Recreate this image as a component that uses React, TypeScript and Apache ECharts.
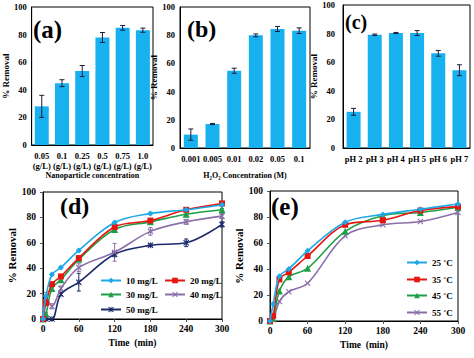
import React, { useEffect, useRef } from 'react';
import * as echarts from 'echarts';

const FONT = '"Liberation Serif", "Times New Roman", serif';

// Panel (a)
const catsA = ['0.05\n(g/L)', '0.1\n(g/L)', '0.25\n(g/L)', '0.5\n(g/L)', '0.75\n(g/L)', '1.0\n(g/L)'];
const valsA = [28, 44.8, 53.6, 77.9, 84.9, 83.2];
const errA = [8, 2.5, 4, 3.6, 1.7, 1.5];
// Panel (b)
const catsB = ['0.001', '0.005', '0.01', '0.02', '0.05', '0.1'];
const valsB = [9.5, 17, 54.8, 79.9, 84.4, 83.2];
const errB = [4, 0.4, 1.8, 1, 1.8, 2];
// Panel (c)
const catsC = ['pH 2', 'pH 3', 'pH 4', 'pH 5', 'pH 6', 'pH 7'];
const valsC = [25.3, 79.2, 80.4, 80.4, 66.2, 54.4];
const errC = [2.4, 0.5, 0.4, 1.7, 2, 3.8];
// Panel (d)
const timeD = [0, 5, 15, 30, 60, 120, 180, 240, 300];
const namesD = ['10 mg/L', '20 mg/L', '30 mg/L', '40 mg/L', '50 mg/L'];
const d10 = [0, 18, 35, 40.5, 54, 76, 83, 86, 90];
const d20 = [0, 12.5, 27.5, 33.5, 48, 72.5, 77.5, 86, 91];
const d30 = [0, 4, 24, 31, 47, 70.5, 76.5, 82.5, 86];
const d40 = [0, 17, 10, 24, 40.5, 52.5, 69, 76.5, 81];
const d50 = [0, 0, 0, 19.5, 29, 51, 58, 60, 74.5];
const eD10 = [0, 1, 1, 1, 1, 1, 1, 1, 1];
const eD20 = [0, 1, 1, 1, 1, 1, 1, 1, 1];
const eD30 = [0, 1, 1, 1, 1, 1, 1, 1, 1];
const eD40 = [0, 4, 2, 2, 3, 7, 3, 2, 2];
const eD50 = [0, 0, 0, 1, 7, 2, 1, 3, 2];
// Panel (e)
const timeE = [0, 5, 15, 30, 60, 120, 180, 240, 300];
const namesE = ['25 ˚C', '35 ˚C', '45 ˚C', '55 ˚C'];
const e25 = [0, 13, 34.5, 40, 54, 76, 82, 86, 90];
const e35 = [0, 4, 32, 37.5, 50, 74, 77.5, 85, 88];
const e45 = [0, 2, 23, 34, 40.5, 69, 81, 83.5, 87.5];
const e55 = [0, 1, 15, 22.5, 29, 65.5, 74, 76.5, 83.5];

const yTicks = { min: 0, max: 100, interval: 20 };

const COLORS = ['#1fa8e6', '#e5150f', '#1f9e48', '#8a6fa8', '#1c2a6b'];
const BAR = '#17b1ef';

const XSYM = 'path://M0,1.3L1.3,0L5,3.7L8.7,0L10,1.3L6.3,5L10,8.7L8.7,10L5,6.3L1.3,10L0,8.7L3.7,5Z';
const STAR = 'path://M0,1.3L1.3,0L5,3.7L8.7,0L10,1.3L6.3,5L10,8.7L8.7,10L5,6.3L1.3,10L0,8.7L3.7,5ZM4.3,0L5.7,0L5.7,10L4.3,10Z';
const SYMS = ['diamond', 'rect', 'triangle', XSYM, STAR];

function mkErr(color: string, cap: number) {
  return (params: any, api: any) => {
    const x = api.value(0);
    const v = api.value(1);
    const e = api.value(2);
    if (!e) return null;
    const hi = api.coord([x, v + e]);
    const lo = api.coord([x, v - e]);
    const st = { stroke: color, lineWidth: 1 };
    return {
      type: 'group',
      children: [
        { type: 'line', shape: { x1: hi[0], y1: hi[1], x2: lo[0], y2: lo[1] }, style: st },
        { type: 'line', shape: { x1: hi[0] - cap, y1: hi[1], x2: hi[0] + cap, y2: hi[1] }, style: st },
        { type: 'line', shape: { x1: lo[0] - cap, y1: lo[1], x2: lo[0] + cap, y2: lo[1] }, style: st },
      ],
    };
  };
}

const txt = (size: number) => ({ fontFamily: FONT, fontWeight: 'bold' as const, fontSize: size, color: '#000' });

function barPanel(idx: number, cats: string[], vals: number[], errs: number[], xName: string, yGap: number, yMargin: number, xGap: number, xLabelMargin: number) {
  const xAxis = {
    type: 'category', gridIndex: idx, data: cats,
    axisLine: { lineStyle: { color: '#000', width: 1 } },
    axisTick: { show: false },
    axisLabel: { ...txt(8.5), margin: xLabelMargin, lineHeight: 10, interval: 0 },
    name: xName, nameLocation: 'middle', nameGap: xGap, nameTextStyle: txt(8),
  };
  const yAxis = {
    type: 'value', gridIndex: idx, ...yTicks,
    axisLine: { show: true, lineStyle: { color: '#000', width: 1 } },
    axisTick: { show: false },
    splitLine: { show: false },
    axisLabel: { ...txt(8.5), margin: yMargin },
    name: '% Removal', nameLocation: 'middle', nameGap: yGap, nameTextStyle: txt(9),
  };
  const series = [
    { type: 'bar', xAxisIndex: idx, yAxisIndex: idx, data: vals, barWidth: 14, itemStyle: { color: BAR }, silent: true },
    {
      type: 'custom', xAxisIndex: idx, yAxisIndex: idx, z: 5, silent: true,
      data: vals.map((v, i) => [i, v, errs[i]]),
      encode: { x: 0, y: 1 },
      renderItem: mkErr('#1b1b3a', 2.5),
    },
  ];
  return { xAxis, yAxis, series };
}

function linePanel(idx: number, times: number[], names: string[], sets: number[][], errs: number[][] | null, yGap: number) {
  const xAxis = {
    type: 'value', gridIndex: idx, min: 0, max: 300, interval: 60,
    axisLine: { lineStyle: { color: '#000', width: 1 } },
    axisTick: { show: true, inside: false, length: 3, lineStyle: { color: '#555' } },
    splitLine: { show: false },
    axisLabel: { ...txt(9.5), margin: 5 },
    name: 'Time  (min)', nameLocation: 'middle', nameGap: 19, nameTextStyle: txt(9.5),
  };
  const yAxis = {
    type: 'value', gridIndex: idx, ...yTicks,
    axisLine: { show: true, lineStyle: { color: '#000', width: 1 } },
    axisTick: { show: true, length: 3, lineStyle: { color: '#555' } },
    splitLine: { show: false },
    axisLabel: { ...txt(9.5), margin: 7 },
    name: '% Removal', nameLocation: 'middle', nameGap: yGap, nameTextStyle: txt(11),
  };
  const series: any[] = [];
  sets.forEach((vals, k) => {
    series.push({
      type: 'line', name: names[k], xAxisIndex: idx, yAxisIndex: idx,
      data: times.map((t, i) => [t, vals[i]]),
      smooth: 0.35, symbol: SYMS[k], symbolSize: k === 1 ? 6 : k === 2 ? 7 : 6,
      showSymbol: true,
      lineStyle: { color: COLORS[k], width: 1.6 },
      itemStyle: { color: COLORS[k] },
      z: 3 + (sets.length - k),
    });
    if (errs) {
      series.push({
        type: 'custom', xAxisIndex: idx, yAxisIndex: idx, z: 2, silent: true,
        data: times.map((t, i) => [t, vals[i], errs[k][i]]),
        encode: { x: 0, y: 1 },
        renderItem: mkErr(COLORS[k], 2),
      });
    }
  });
  return { xAxis, yAxis, series };
}

function legendItem(name: string, left: number, top: number) {
  return {
    data: [name], left, top, orient: 'horizontal', itemWidth: 20, itemHeight: 7,
    textStyle: { ...txt(9) }, itemGap: 4, padding: 0, selectedMode: false,
  };
}

function panelLabel(text: string, x: number, y: number, size: number) {
  return {
    type: 'text', x, y, silent: true,
    style: { text, fontFamily: FONT, fontWeight: 'bold', fontSize: size, fill: '#000', verticalAlign: 'middle' },
  };
}

export default function App() {
  const ref = useRef<HTMLDivElement>(null);
  useEffect(() => {
    if (!ref.current) return;
    const chart = echarts.init(ref.current, undefined, { renderer: 'svg' });
    const pA = barPanel(0, catsA, valsA, errA, 'Nanoparticle concentration', 15, 5, 25, 6);
    const pB = barPanel(1, catsB, valsB, errB, 'H₂O₂ Concentration (M)', 9, 5, 23, 6);
    const pC = barPanel(2, catsC, valsC, errC, '', 14, 8, 24, 6);
    const pD = linePanel(3, timeD, namesD, [d10, d20, d30, d40, d50], [eD10, eD20, eD30, eD40, eD50], 22);
    const pE = linePanel(4, timeE, namesE, [e25, e35, e45, e55], null, 21);
    const gridStyle = { show: true, borderColor: '#000', borderWidth: 1, containLabel: false };
    const option = {
      animation: false,
      backgroundColor: '#fff',
      grid: [
        { left: 30, top: 7, width: 123, height: 138, ...gridStyle },
        { left: 180, top: 7, width: 130, height: 141, ...gridStyle },
        { left: 343, top: 5, width: 127, height: 143, ...gridStyle },
        { left: 43, top: 192, width: 179, height: 127, ...gridStyle },
        { left: 270, top: 191, width: 188, height: 130, ...gridStyle },
      ],
      xAxis: [pA.xAxis, pB.xAxis, pC.xAxis, pD.xAxis, pE.xAxis],
      yAxis: [pA.yAxis, pB.yAxis, pC.yAxis, pD.yAxis, pE.yAxis],
      series: [...pA.series, ...pB.series, ...pC.series, ...pD.series, ...pE.series],
      legend: [
        legendItem(namesD[0], 100, 276),
        legendItem(namesD[1], 164, 276),
        legendItem(namesD[2], 100, 290),
        legendItem(namesD[3], 164, 290),
        legendItem(namesD[4], 100, 305),
        legendItem(namesE[0], 406, 258),
        legendItem(namesE[1], 406, 275),
        legendItem(namesE[2], 406, 291),
        legendItem(namesE[3], 406, 308),
      ],
      graphic: [
        panelLabel('(a)', 33, 29, 25),
        panelLabel('(b)', 187, 29, 24),
        panelLabel('(c)', 345, 22, 20),
        panelLabel('(d)', 60, 206, 24),
        panelLabel('(e)', 271, 206, 25),
      ],
    };
    chart.setOption(option as any);
    return () => chart.dispose();
  }, []);
  return (
    <div
      ref={ref}
      style={{ position: 'fixed', left: 0, top: 0, width: 474, height: 358, background: '#fff' }}
    />
  );
}
